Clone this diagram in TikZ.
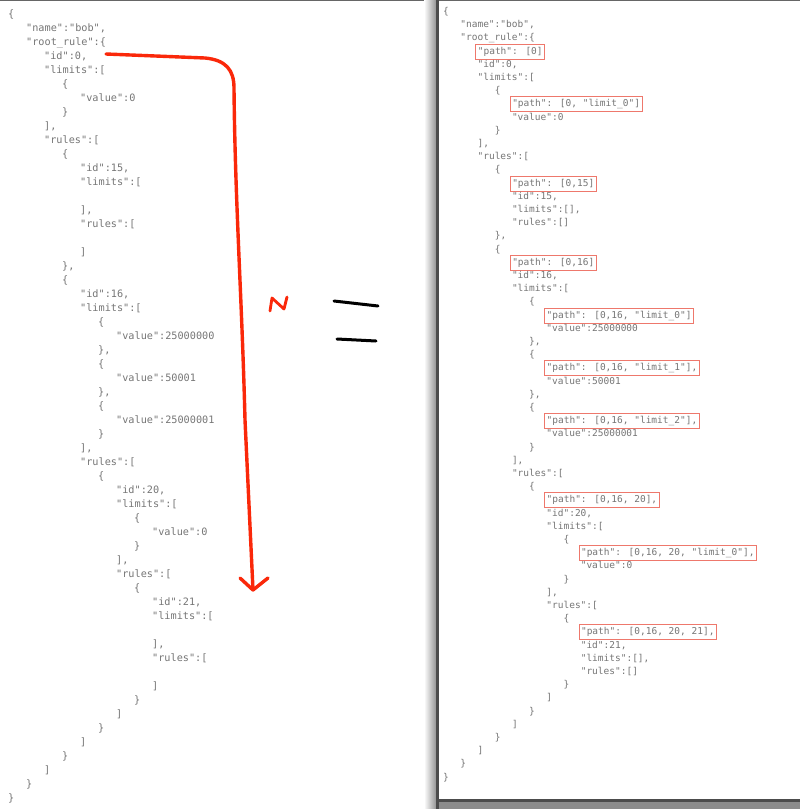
\documentclass[tikz,border=0pt]{standalone}
\usepackage{fontspec}
\newfontfamily\codefont{DejaVu Sans Mono}
\definecolor{codegray}{RGB}{118,118,118}
\definecolor{boxred}{RGB}{238,120,108}
\definecolor{pen}{RGB}{250,40,10}
\begin{document}
\begin{tikzpicture}[x=1pt,y=-1pt,
  ltxt/.style={anchor=west,inner sep=0pt,text=codegray,font=\codefont\fontsize{10.2}{12}\selectfont,text height=7.5pt,text depth=2pt},
  rtxt/.style={anchor=west,inner sep=0pt,text=codegray,font=\codefont\fontsize{9.5}{11}\selectfont,text height=7pt,text depth=2pt},
  pbox/.style={rtxt,draw=boxred,line width=0.9pt,inner xsep=2pt,inner ysep=3pt,xshift=-2pt},
  plain/.style={},
  redpen/.style={draw=pen,line width=3.4pt,line cap=round,line join=round},
  blackpen/.style={draw=black,line width=3pt,line cap=round}]
\useasboundingbox (0,0) rectangle (800,809);
\fill[white] (0,0) rectangle (800,809);
% frame
\fill[gray!80!black] (0,0) rectangle (800,1.3);
\shade[left color=white,right color=black!45] (424,0) rectangle (437,809);
\fill[black!70] (436,0) rectangle (438.5,809);
\fill[black!70] (437,799) rectangle (800,801.5);
\fill[black!45] (438.5,801.5) rectangle (800,809);
% left text
\foreach \i/\l/\t in {
1/0/{\{},2/1/{"name":"bob",},3/1/{"root\_rule":\{},4/2/{"id":0,},5/2/{"limits":[},
6/3/{\{},7/4/{"value":0},8/3/{\}},9/2/{],},10/2/{"rules":[},11/3/{\{},
12/4/{"id":15,},13/4/{"limits":[},15/4/{],},16/4/{"rules":[},18/4/{]},19/3/{\},},
20/3/{\{},21/4/{"id":16,},22/4/{"limits":[},23/5/{\{},24/6/{"value":25000000},25/5/{\},},
26/5/{\{},27/6/{"value":50001},28/5/{\},},29/5/{\{},30/6/{"value":25000001},31/5/{\}},
32/4/{],},33/4/{"rules":[},34/5/{\{},35/6/{"id":20,},36/6/{"limits":[},37/7/{\{},
38/8/{"value":0},39/7/{\}},40/6/{],},41/6/{"rules":[},42/7/{\{},43/8/{"id":21,},
44/8/{"limits":[},46/8/{],},47/8/{"rules":[},49/8/{]},50/7/{\}},51/6/{]},52/5/{\}},
53/4/{]},54/3/{\}},55/2/{]},56/1/{\}},57/0/{\}}}
  \node[ltxt] (L\i) at ({8+18*\l},{15+14*(\i-1)}) {\t};
% right text
\foreach \i/\l/\s/\t in {
1/0/plain/{\{},2/1/plain/{"name":"bob",},3/1/plain/{"root\_rule":\{},
4/2/pbox/{"path": [0]},5/2/plain/{"id":0,},6/2/plain/{"limits":[},7/3/plain/{\{},
8/4/pbox/{"path": [0, "limit\_0"]},9/4/plain/{"value":0},10/3/plain/{\}},11/2/plain/{],},
12/2/plain/{"rules":[},13/3/plain/{\{},14/4/pbox/{"path": [0,15]},15/4/plain/{"id":15,},
16/4/plain/{"limits":[],},17/4/plain/{"rules":[]},18/3/plain/{\},},19/3/plain/{\{},
20/4/pbox/{"path": [0,16]},21/4/plain/{"id":16,},22/4/plain/{"limits":[},23/5/plain/{\{},
24/6/pbox/{"path": [0,16, "limit\_0"]},25/6/plain/{"value":25000000},26/5/plain/{\},},
27/5/plain/{\{},28/6/pbox/{"path": [0,16, "limit\_1"],},29/6/plain/{"value":50001},
30/5/plain/{\},},31/5/plain/{\{},32/6/pbox/{"path": [0,16, "limit\_2"],},
33/6/plain/{"value":25000001},34/5/plain/{\}},35/4/plain/{],},36/4/plain/{"rules":[},
37/5/plain/{\{},38/6/pbox/{"path": [0,16, 20],},39/6/plain/{"id":20,},40/6/plain/{"limits":[},
41/7/plain/{\{},42/8/pbox/{"path": [0,16, 20, "limit\_0"],},43/8/plain/{"value":0},
44/7/plain/{\}},45/6/plain/{],},46/6/plain/{"rules":[},47/7/plain/{\{},
48/8/pbox/{"path": [0,16, 20, 21],},49/8/plain/{"id":21,},50/8/plain/{"limits":[],},
51/8/plain/{"rules":[]},52/7/plain/{\}},53/6/plain/{]},54/5/plain/{\}},55/4/plain/{]},
56/3/plain/{\}},57/2/plain/{]},58/1/plain/{\}},59/0/plain/{\}}}
  \node[rtxt,\s] (R\i) at ({443+17.2*\l},{12+13.2*(\i-1)}) {\t};
% red arrow
\coordinate (a0) at (106,54);
\coordinate (a1) at (205,58);
\coordinate (a2) at (234,88);
\coordinate (a3) at (253,590);
\draw[redpen] (a0) -- (a1) .. controls (226,60) and (234,70) .. (a2)
  .. controls (235,200) and (242,300) .. (245,420) -- (a3);
\draw[redpen] (240,578) -- (a3) -- (268,578);
% squiggle
\draw[redpen,line width=2.8pt] (270,311) -- (272,298) -- (284,309) -- (287,297);
% equals
\draw[blackpen] (334,301) -- (378,306);
\draw[blackpen] (337,339) -- (376,341);
\end{tikzpicture}
\end{document}
